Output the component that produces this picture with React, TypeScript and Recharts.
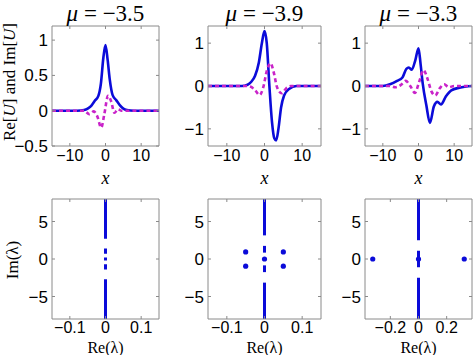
import React from 'react';
import { ComposedChart, Line, Scatter, XAxis, YAxis } from 'recharts';

const BLUE = '#0b0bd9';
const MAGENTA = '#c923c9';
const FRAME = '#8a8a8a';
const SERIF = '"Liberation Serif", "Times New Roman", serif';

const MU = ['\u22123.5', '\u22123.9', '\u22123.3'];

// top row: Re[U] (solid) and Im[U] (dashed) against x
const P1_RE_X = [-15, -8, -6, -5, -4, -3, -2, -1.3, -0.6, 0, 0.6, 1.2, 2, 3, 4, 5, 6, 8, 15];
const P1_RE = [0, 0, 0.01, 0.03, 0.07, 0.14, 0.21, 0.38, 0.75, 0.93, 0.72, 0.44, 0.22, 0.15, 0.08, 0.03, 0.01, 0, 0];
const P1_IM_X = [-15, -6, -4.5, -3.3, -2.3, -1.2, -0.3, 0.7, 1.6, 2.5, 3.5, 4.5, 6, 15];
const P1_IM = [0, 0, -0.05, -0.01, -0.08, -0.24, -0.04, 0.21, 0.13, -0.03, 0.02, 0, 0, 0];

const P2_RE_X = [-15, -6, -4.5, -3.5, -2.5, -1.5, -0.7, 0, 0.6, 1.3, 2, 2.6, 3.1, 3.7, 4.4, 5.2, 6.5, 8.5, 15];
const P2_RE = [0, 0, 0.03, 0.1, 0.24, 0.55, 1.0, 1.28, 1.0, 0, -0.85, -1.22, -1.27, -1.0, -0.5, -0.22, -0.07, 0, 0];
const P2_IM_X = [-15, -5, -3.6, -2.5, -1.3, -0.3, 0.6, 1.6, 2.5, 3.3, 4.6, 5.8, 7, 15];
const P2_IM = [0, 0, -0.02, -0.1, -0.21, -0.02, 0.35, 0.53, 0.3, -0.02, -0.17, -0.05, 0, 0];

const P3_RE_X = [-15, -10, -8, -6, -4.5, -3.4, -2.7, -1.9, -0.9, 0, 0.6, 1.2, 2.2, 3.2, 4.3, 5.3, 6.3, 7.7, 9.2, 11.5, 15];
const P3_RE = [0, 0, 0.04, 0.12, 0.2, 0.4, 0.43, 0.38, 0.6, 0.88, 0.5, 0.05, -0.45, -0.86, -0.48, -0.37, -0.43, -0.24, -0.1, -0.04, 0];
const P3_IM_X = [-15, -8, -6.5, -5, -3.6, -2.3, -1, 0.2, 1.4, 2.6, 3.6, 4.7, 6, 7.2, 8.5, 10, 15];
const P3_IM = [0, 0, -0.03, 0.02, 0.12, 0, -0.16, 0.1, 0.37, 0.15, -0.12, -0.22, -0.05, 0.04, -0.03, 0, 0];

// bottom row: spectra, branches on Re = 0 given as [from, to] in Im
const P4_BRANCHES = [[2.7, 8], [-8, -2.7], [0.7, 1.4], [-1.4, -0.7], [-0.2, 0.2]];
const P5_BRANCHES = [[3.15, 8], [-8, -3.15], [0.85, 1.75], [-1.75, -0.85]];
const P5_EIG_RE = [0, -0.05, -0.05, 0.05, 0.05];
const P5_EIG_IM = [0, 0.95, -0.95, 0.95, -0.95];
const P6_BRANCHES = [[2.5, 8], [-8, -2.5], [-1.1, 1.1]];
const P6_EIG_RE = [0, -0.325, 0.325];
const P6_EIG_IM = [0, 0, 0];

const TOP_X_TICKS = [-10, 0, 10];
const P1_Y_TICKS = [-0.5, 0, 0.5, 1];
const P23_Y_TICKS = [-1, 0, 1];
const SPEC_Y_TICKS = [-5, 0, 5];
const P45_X_TICKS = [-0.1, 0, 0.1];
const P6_X_TICKS = [-0.2, 0, 0.2];

const COLS = [{ left: 52, w: 107 }, { left: 208, w: 113 }, { left: 365, w: 107 }];
const ROWS = [{ top: 26, h: 120, gap: 7, font: 16 }, { top: 199, h: 120, gap: 6, font: 16 }];

const pairs = (xs: number[], ys: number[]) => xs.map((x, i) => ({ x, y: ys[i] }));
const fmt = (v: number) => (v < 0 ? '\u2212' + Math.abs(v) : String(v));

const YW = 50, MT = 4, MR = 4, XH = 30;
const SANS = '"Liberation Sans", Arial, sans-serif';
const noTick = () => <g />;

interface PanelProps {
  col: number;
  row: number;
  xDomain: [number, number];
  yDomain: [number, number];
  xTicks: number[];
  yTicks: number[];
  children: React.ReactNode;
}

const Panel: React.FC<PanelProps> = ({ col, row, xDomain, yDomain, xTicks, yTicks, children }) => {
  const { left, w } = COLS[col];
  const { top, h, gap, font } = ROWS[row];
  const tick = { fontSize: font, fontFamily: SANS, fill: '#000' };
  return (
    <div style={{ position: 'absolute', left: left - YW, top: top - MT - 1 }}>
      <ComposedChart width={YW + w + 1 + MR} height={MT + 1 + h + XH} margin={{ top: MT, right: MR, bottom: 0, left: 0 }}>
        <XAxis type="number" dataKey="x" domain={xDomain} ticks={xTicks} tickFormatter={fmt} allowDataOverflow interval={0}
          height={XH} stroke={FRAME} tick={tick} tickSize={-3} tickMargin={gap} />
        <XAxis xAxisId="top" orientation="top" type="number" dataKey="x" domain={xDomain} ticks={xTicks} allowDataOverflow
          height={1} stroke={FRAME} tick={noTick} tickSize={-3} />
        <YAxis type="number" dataKey="y" domain={yDomain} ticks={yTicks} tickFormatter={fmt} allowDataOverflow interval={0}
          width={YW} stroke={FRAME} tick={{ ...tick, fontSize: 17 }} tickSize={-3} tickMargin={7} />
        <YAxis yAxisId="right" orientation="right" type="number" dataKey="y" domain={yDomain} ticks={yTicks} allowDataOverflow
          width={1} stroke={FRAME} tick={noTick} tickSize={-3} />
        {children}
      </ComposedChart>
    </div>
  );
};

const profile = (key: string, re: { x: number; y: number }[], im: { x: number; y: number }[]) => [
  <Line key={key + 're'} data={re} dataKey="y" type="monotone" stroke={BLUE} strokeWidth={2.6} dot={false} isAnimationActive={false} />,
  <Line key={key + 'im'} data={im} dataKey="y" type="monotone" stroke={MAGENTA} strokeWidth={2.6} strokeDasharray="4 3" dot={false} isAnimationActive={false} />,
];

const branches = (key: string, list: number[][]) =>
  list.map((b, i) => (
    <Line key={key + i} data={[{ x: 0, y: b[0] }, { x: 0, y: b[1] }]} dataKey="y" type="linear" stroke={BLUE} strokeWidth={3}
      dot={false} isAnimationActive={false} />
  ));

const eigDot = (p: any) => <circle cx={p.cx} cy={p.cy} r={2.6} fill={BLUE} />;

export default function App() {
  const centers = COLS.map(c => c.left + c.w / 2);
  return (
    <div style={{ position: 'absolute', left: 0, top: 0, width: 474, height: 355, background: '#fff' }}>
      <Panel col={0} row={0} xDomain={[-15, 15]} yDomain={[-0.5, 1.2]} xTicks={TOP_X_TICKS} yTicks={P1_Y_TICKS}>
        {profile('p1', pairs(P1_RE_X, P1_RE), pairs(P1_IM_X, P1_IM))}
      </Panel>
      <Panel col={1} row={0} xDomain={[-15, 15]} yDomain={[-1.4, 1.4]} xTicks={TOP_X_TICKS} yTicks={P23_Y_TICKS}>
        {profile('p2', pairs(P2_RE_X, P2_RE), pairs(P2_IM_X, P2_IM))}
      </Panel>
      <Panel col={2} row={0} xDomain={[-15, 15]} yDomain={[-1.4, 1.4]} xTicks={TOP_X_TICKS} yTicks={P23_Y_TICKS}>
        {profile('p3', pairs(P3_RE_X, P3_RE), pairs(P3_IM_X, P3_IM))}
      </Panel>
      <Panel col={0} row={1} xDomain={[-0.15, 0.15]} yDomain={[-8, 8]} xTicks={P45_X_TICKS} yTicks={SPEC_Y_TICKS}>
        {branches('p4', P4_BRANCHES)}
      </Panel>
      <Panel col={1} row={1} xDomain={[-0.15, 0.15]} yDomain={[-8, 8]} xTicks={P45_X_TICKS} yTicks={SPEC_Y_TICKS}>
        {branches('p5', P5_BRANCHES)}
        <Scatter data={pairs(P5_EIG_RE, P5_EIG_IM)} shape={eigDot} isAnimationActive={false} />
      </Panel>
      <Panel col={2} row={1} xDomain={[-0.38, 0.38]} yDomain={[-8, 8]} xTicks={P6_X_TICKS} yTicks={SPEC_Y_TICKS}>
        {branches('p6', P6_BRANCHES)}
        <Scatter data={pairs(P6_EIG_RE, P6_EIG_IM)} shape={eigDot} isAnimationActive={false} />
      </Panel>

      <svg width={474} height={355} style={{ position: 'absolute', left: 0, top: 0, pointerEvents: 'none' }}
        fontFamily={SERIF} fill="#000">
        {centers.map((cx, i) => (
          <text key={'t' + i} x={cx} y={21} textAnchor="middle" fontSize={23}>
            <tspan fontStyle="italic">μ</tspan> = {MU[i]}
          </text>
        ))}
        {centers.map((cx, i) => (
          <text key={'x' + i} x={cx} y={184} textAnchor="middle" fontSize={18} fontStyle="italic">x</text>
        ))}
        {centers.map((cx, i) => (
          <text key={'r' + i} x={cx} y={353} textAnchor="middle" fontSize={16}>Re(λ)</text>
        ))}
        <text transform="translate(15,82) rotate(-90)" textAnchor="middle" fontSize={17}>
          Re[<tspan fontStyle="italic">U</tspan>] and Im[<tspan fontStyle="italic">U</tspan>]
        </text>
        <text transform="translate(18,260) rotate(-90)" textAnchor="middle" fontSize={17}>Im(λ)</text>
      </svg>
    </div>
  );
}
